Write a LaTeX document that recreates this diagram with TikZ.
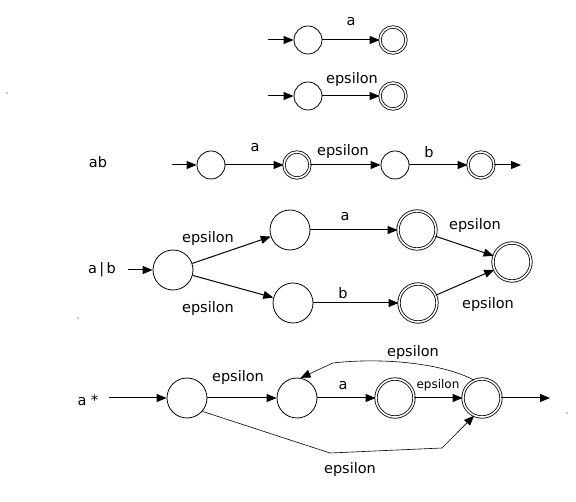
\documentclass[tikz,border=0pt]{standalone}
\usepackage{fontspec}
\setmainfont{DejaVu Sans}
\usetikzlibrary{arrows.meta}
\tikzset{
  st/.style={circle, draw, line width=0.8pt, minimum size=28pt, inner sep=0pt},
  acc/.style={st, double, double distance=1.6pt, minimum size=26pt},
  stb/.style={st, minimum size=40pt},
  accb/.style={acc, minimum size=38pt},
  arr/.style={line width=1pt, -{Triangle[length=10pt,width=8pt]}},
  thin arr/.style={line width=0.6pt, -{Triangle[length=10pt,width=8pt]}},
  lbl/.style={font=\fontsize{14.5}{16}\selectfont, inner sep=0pt},
  slbl/.style={font=\fontsize{12}{13}\selectfont, inner sep=0pt}
}
\begin{document}
\begin{tikzpicture}[x=1pt,y=-1pt]
\useasboundingbox (0,0) rectangle (576,502);
% stray dots
\fill (7,93) circle (0.6pt);
\fill (78,318) circle (0.6pt);
\fill (567,413) circle (0.6pt);

% row 1
\node[st] (r1a) at (308,40) {};
\node[acc] (r1b) at (393,40) {};
\coordinate (r1in) at (268,40);
\draw[arr] (r1in) -- (r1a);
\draw[arr] (r1a) -- (r1b);
\node[lbl] (l1) at (351,22) {a};

% row 2
\node[st] (r2a) at (308,96) {};
\node[acc] (r2b) at (393,96) {};
\coordinate (r2in) at (268,96);
\draw[arr] (r2in) -- (r2a);
\draw[arr] (r2a) -- (r2b);
\node[lbl] (l2) at (352,80) {epsilon};

% row 3
\node[lbl] (t3) at (98,162) {ab};
\node[st] (r3a) at (211,165) {};
\node[acc] (r3b) at (297,165) {};
\node[st] (r3c) at (395,165) {};
\node[acc] (r3d) at (481,165) {};
\coordinate (r3in) at (172,165);
\coordinate (r3out) at (521,165);
\draw[arr] (r3in) -- (r3a);
\draw[arr] (r3a) -- (r3b);
\draw[arr] (r3b) -- (r3c);
\draw[arr] (r3c) -- (r3d);
\draw[arr] (r3d) -- (r3out);
\node[lbl] (l3a) at (255,148) {a};
\node[lbl] (l3b) at (343,152) {epsilon};
\node[lbl] (l3c) at (429,152) {b};

% row 4
\node[lbl] (t4) at (102,270) {a\,|\,b};
\node[stb] (r4s) at (173,270) {};
\node[stb] (r4u) at (290,230) {};
\node[stb] (r4l) at (293,303) {};
\node[accb] (r4ua) at (417,230) {};
\node[accb] (r4la) at (418,303) {};
\node[accb] (r4f) at (512,262) {};
\coordinate (r4in) at (128,270);
\draw[arr] (r4in) -- (r4s);
\draw[arr] (r4s) -- (r4u);
\draw[arr] (r4s) -- (r4l);
\draw[arr] (r4u) -- (r4ua);
\draw[arr] (r4l) -- (r4la);
\draw[arr] (r4ua) -- (r4f);
\draw[arr] (r4la) -- (r4f);
\node[lbl] (l4a) at (208,239) {epsilon};
\node[lbl] (l4b) at (208,309) {epsilon};
\node[lbl] (l4c) at (345,217) {a};
\node[lbl] (l4d) at (343,293) {b};
\node[lbl] (l4e) at (475,226) {epsilon};
\node[lbl] (l4f) at (488,305) {epsilon};

% row 5
\node[lbl] (t5) at (88,400) {a *};
\node[stb] (r5a) at (187,398) {};
\node[stb] (r5b) at (297,398) {};
\node[accb] (r5c) at (395,398) {};
\node[accb] (r5d) at (482,398) {};
\coordinate (r5in) at (109,398);
\coordinate (r5out) at (550,398);
\draw[arr] (r5in) -- (r5a);
\draw[arr] (r5a) -- (r5b);
\draw[arr] (r5b) -- (r5c);
\draw[arr] (r5c) -- (r5d);
\draw[arr] (r5d) -- (r5out);
\coordinate (p2) at (333,363);
\coordinate (q1) at (330,453);
\coordinate (q2) at (442,448);
\draw[thin arr] (r5d.114) .. controls (445,364) and (385,357) .. (p2) -- (r5b.80);
\draw[thin arr] (r5a.-41) -- (q1) -- (q2) -- (r5d.-114);
\node[lbl] (l5a) at (238,378) {epsilon};
\node[lbl] (l5b) at (343,386) {a};
\node[slbl] (l5c) at (438,385) {epsilon};
\node[lbl] (l5d) at (413,353) {epsilon};
\node[lbl] (l5e) at (350,470) {epsilon};
\end{tikzpicture}
\end{document}
